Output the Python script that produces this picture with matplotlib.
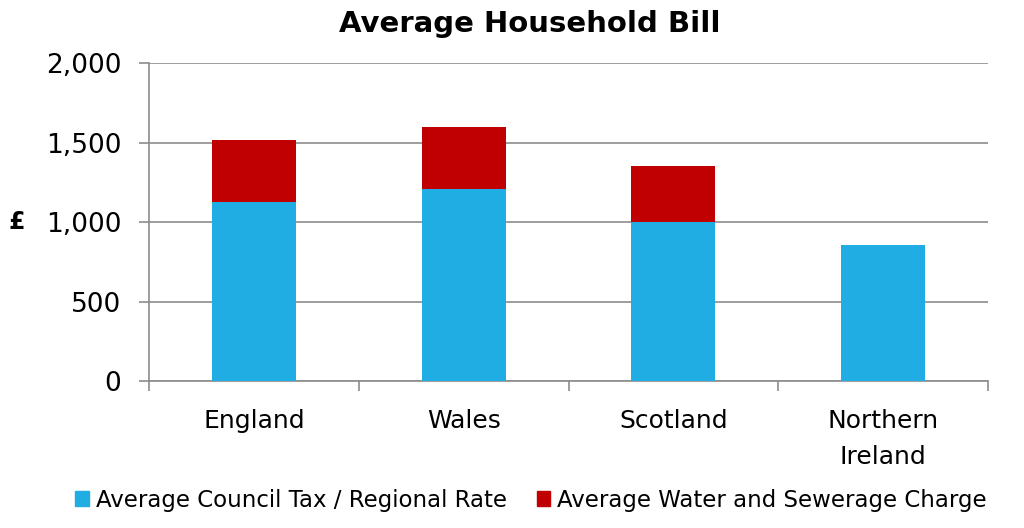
import numpy as np
import matplotlib
matplotlib.use("Agg")
import matplotlib.pyplot as plt
from matplotlib.patches import Patch

plt.rcParams['font.family'] = ['DejaVu Sans']

countries = ['England', 'Wales', 'Scotland', 'Northern\nIreland']
council_tax = [1128, 1206, 1000, 853]
water_charge = [387, 392, 352, 0]

blue = '#1FADE4'
red = '#C00000'
grey = '#8C8C8C'

fig = plt.figure(figsize=(10.24, 5.28), dpi=100)
ax = fig.add_axes([149/1024, 1 - 381/528, (988-149)/1024, (381-63)/528])

x = np.arange(len(countries))
ax.bar(x, council_tax, width=0.4, color=blue, zorder=3)
ax.bar(x, water_charge, width=0.4, bottom=council_tax, color=red, zorder=3)

ax.set_xlim(-0.5, len(countries) - 0.5)
ax.set_ylim(0, 2000)
ax.set_yticks([0, 500, 1000, 1500, 2000])
ax.set_yticklabels(['0', '500', '1,000', '1,500', '2,000'], fontsize=19)
ax.yaxis.grid(True, color=grey, linewidth=1.2, zorder=0)

ax.set_xticks(x)
ax.set_xticklabels(countries, fontsize=18, linespacing=1.62)
ax.set_xticks(np.arange(len(countries) + 1) - 0.5, minor=True)
ax.tick_params(axis='x', which='major', length=0, pad=20)
ax.tick_params(axis='x', which='minor', length=7, color=grey, width=1.2)
ax.tick_params(axis='y', length=7, color=grey, width=1.2, pad=13)

for s in ['top', 'right']:
    ax.spines[s].set_visible(False)
for s in ['left', 'bottom']:
    ax.spines[s].set_color(grey)
    ax.spines[s].set_linewidth(1.2)

fig.text(17/1024, 1 - 222/528, '£', fontsize=17, fontweight='bold', ha='center', va='center')
fig.text(530/1024, 1 - 24/528, 'Average Household Bill', fontsize=21, fontweight='bold',
         ha='center', va='center')

handles = [Patch(color=blue, label='Average Council Tax / Regional Rate'),
           Patch(color=red, label='Average Water and Sewerage Charge')]
fig.legend(handles=handles, loc='center', bbox_to_anchor=(531/1024, 1 - 500/528), ncol=2,
           frameon=False, fontsize=16.5, handlelength=0.6, handleheight=0.6,
           handletextpad=0.3, columnspacing=1.3)

fig.savefig('out.png', dpi=100)
